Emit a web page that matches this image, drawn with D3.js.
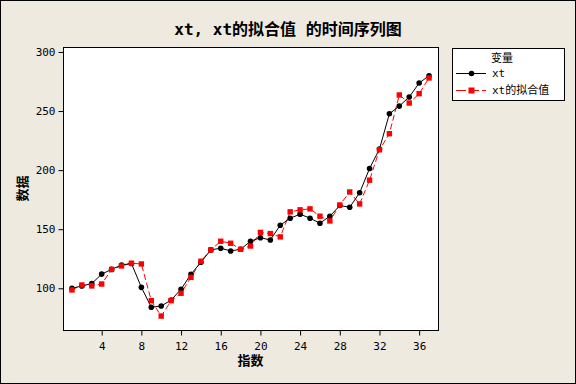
<!DOCTYPE html>
<html>
<head>
<meta charset="utf-8">
<script src="https://cdn.jsdelivr.net/npm/d3@7"></script>
<style>
  body { margin: 0; background: #eeeae0; }
  svg { display: block; }
</style>
</head>
<body>
<div id="chart"></div>
<script>
// index 1..37 for both series
const index = d3.range(1, 38);
const xt = [100, 102, 104, 112, 116, 119.7, 121, 100.8, 84, 85, 90, 99.2, 111.9, 122, 132.5, 133.9, 131.6, 133, 139.8, 142.8, 140.9, 153.4, 159.3, 162.7, 159.3, 155.1, 161, 170, 168.6, 180.8, 201.4, 217.8, 247.7, 254.2, 261.9, 273.7, 279.9];
const fitted = [98.6, 102.8, 102, 103.6, 116, 118.9, 121.2, 120.6, 89.5, 76.5, 89.5, 95.8, 109.3, 122.9, 132.5, 139.8, 138.1, 133, 135.8, 147.3, 146.3, 143.5, 164.7, 166.4, 167.2, 161, 157, 170.5, 181.5, 171.4, 191.5, 217.2, 230.8, 263.6, 256.8, 264.7, 278];
const xTicks = [4, 8, 12, 16, 20, 24, 28, 32, 36];
const yTicks = [100, 150, 200, 250, 300];
const seriesNames = ["xt", "xt的拟合值"];

const width = 576;
const height = 384;
const plot = { left: 63, right: 438, top: 47, bottom: 330 };
const font = "'DejaVu Sans Mono', 'Noto Sans CJK SC', monospace";

const svg = d3.select("#chart").append("svg")
  .attr("width", width)
  .attr("height", height);

// background + outer frame
svg.append("rect")
  .attr("x", 0.5).attr("y", 0.5)
  .attr("width", width - 1).attr("height", height - 1)
  .attr("fill", "#eeeae0")
  .attr("stroke", "#000");

const x = d3.scaleLinear().domain([0.1, 37.9]).range([plot.left, plot.right]);
const y = d3.scaleLinear().domain([64.7, 304.2]).range([plot.bottom, plot.top]);

// plot area
svg.append("rect")
  .attr("x", plot.left + 0.5).attr("y", plot.top + 0.5)
  .attr("width", plot.right - plot.left).attr("height", plot.bottom - plot.top)
  .attr("fill", "#fff")
  .attr("stroke", "#000");

// axes
const xAxis = svg.append("g")
  .attr("transform", `translate(0,${plot.bottom + 0.5})`)
  .call(d3.axisBottom(x).tickValues(xTicks).tickSize(5).tickSizeOuter(0));
const yAxis = svg.append("g")
  .attr("transform", `translate(${plot.left + 0.5},0)`)
  .call(d3.axisLeft(y).tickValues(yTicks).tickSize(5).tickSizeOuter(0));

[xAxis, yAxis].forEach((g) => {
  g.select(".domain").remove();
  g.selectAll("line").attr("stroke", "#000");
  g.selectAll("text")
    .attr("fill", "#000")
    .style("font-family", font)
    .style("font-size", "11px");
});
xAxis.selectAll("text").attr("dy", "1.05em");

// title and axis labels
svg.append("text")
  .attr("x", 288).attr("y", 35)
  .attr("text-anchor", "middle")
  .style("font-family", font)
  .style("font-size", "16px")
  .style("font-weight", "bold")
  .text("xt, xt的拟合值 的时间序列图");

svg.append("text")
  .attr("x", (plot.left + plot.right) / 2).attr("y", 365)
  .attr("text-anchor", "middle")
  .style("font-family", font)
  .style("font-size", "13px")
  .style("font-weight", "bold")
  .text("指数");

svg.append("text")
  .attr("transform", `translate(27,${(plot.top + plot.bottom) / 2}) rotate(-90)`)
  .attr("text-anchor", "middle")
  .style("font-family", font)
  .style("font-size", "13px")
  .style("font-weight", "bold")
  .text("数据");

const line = d3.line()
  .x((d, i) => x(index[i]))
  .y((d) => y(d));

// fitted values: red dashed with squares
svg.append("path")
  .datum(fitted)
  .attr("d", line)
  .attr("fill", "none")
  .attr("stroke", "#ff0000")
  .attr("stroke-width", 1)
  .attr("stroke-dasharray", "6,3");

// actual xt: black solid with dots
svg.append("path")
  .datum(xt)
  .attr("d", line)
  .attr("fill", "none")
  .attr("stroke", "#000")
  .attr("stroke-width", 1);

svg.append("g")
  .selectAll("circle")
  .data(xt)
  .join("circle")
  .attr("cx", (d, i) => x(index[i]))
  .attr("cy", (d) => y(d))
  .attr("r", 2.8)
  .attr("fill", "#000");

svg.append("g")
  .selectAll("rect")
  .data(fitted)
  .join("rect")
  .attr("x", (d, i) => x(index[i]) - 2.7)
  .attr("y", (d) => y(d) - 2.7)
  .attr("width", 5.4)
  .attr("height", 5.4)
  .attr("fill", "#ff0000");

// legend
const legend = svg.append("g");
legend.append("rect")
  .attr("x", 452.5).attr("y", 48.5)
  .attr("width", 112).attr("height", 52)
  .attr("fill", "#fff")
  .attr("stroke", "#000");

legend.append("text")
  .attr("x", 502).attr("y", 62)
  .attr("text-anchor", "middle")
  .style("font-family", font)
  .style("font-size", "11px")
  .text("变量");

const items = legend.selectAll("g.item")
  .data(seriesNames)
  .join("g")
  .attr("class", "item")
  .attr("transform", (d, i) => `translate(0,${73.5 + i * 17})`);

items.append("line")
  .attr("x1", 456).attr("x2", 486)
  .attr("stroke", (d, i) => (i === 0 ? "#000" : "#ff0000"))
  .attr("stroke-dasharray", (d, i) => (i === 0 ? null : "10,3"));

items.filter((d, i) => i === 0).append("circle")
  .attr("cx", 471.5).attr("r", 2.8).attr("fill", "#000");
items.filter((d, i) => i === 1).append("rect")
  .attr("x", 468.5).attr("y", -3).attr("width", 6).attr("height", 6)
  .attr("fill", "#ff0000");

items.append("text")
  .attr("x", 492).attr("dy", "0.35em")
  .style("font-family", font)
  .style("font-size", "11px")
  .text((d) => d);
</script>
</body>
</html>
